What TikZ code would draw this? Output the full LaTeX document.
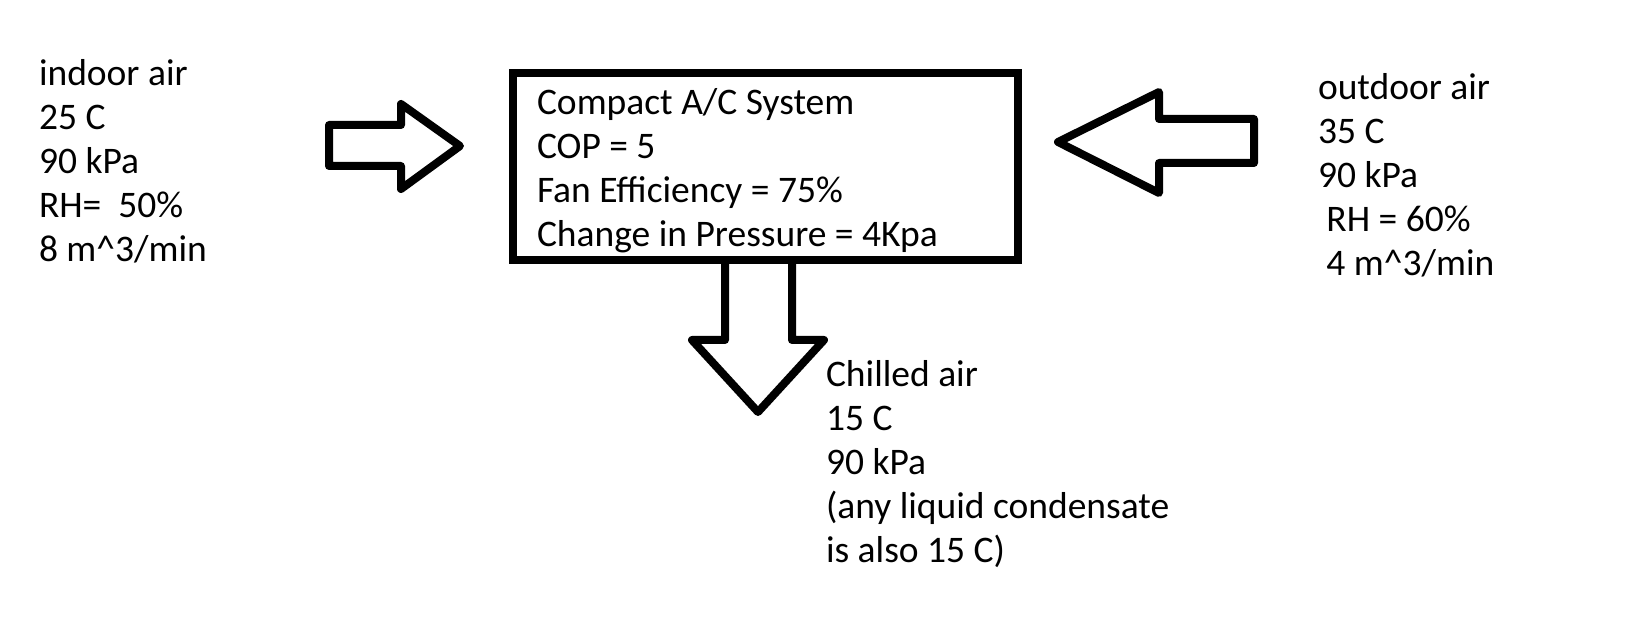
\documentclass[tikz,border=0pt]{standalone}
\usepackage{fontspec}
\setmainfont{Carlito}

\begin{document}
\begin{tikzpicture}[x=1pt, y=-1pt, line width=8pt, line join=round,
  txt/.style={anchor=base west, align=left, inner sep=0pt, font=\fontsize{37.5}{44}\selectfont}]

\useasboundingbox (0,0) rectangle (1641,617);

\node[txt] (in) at (35,262) {indoor air\\25 C\\90 kPa\\RH=~ 50\%\\8 m\textasciicircum 3/min};
\node[txt] (out) at (1314,276) {outdoor air\\35 C\\90 kPa\\\ RH = 60\%\\\ 4 m\textasciicircum 3/min};
\node[draw, line join=miter, minimum width=505pt, minimum height=187pt] (sys) at (765.5,166.5) {};
\node[txt] (systxt) at (533,247) {Compact A/C System\\COP = 5\\Fan Efficiency = 75\%\\Change in Pressure = 4Kpa};
\node[txt] (chill) at (822,562) {Chilled air\\15 C\\90 kPa\\(any liquid condensate\\is also 15 C)};

% block arrows
\draw (329,125) -- (401,125) -- (401,104) -- (460,146) -- (401,189) -- (401,166) -- (329,166) -- cycle;
\draw (1254,119) -- (1159,119) -- (1159,92) -- (1058,142) -- (1159,193) -- (1159,163) -- (1254,163) -- cycle;
\draw (725,260) -- (725,340) -- (692,340) -- (758,412) -- (824,340) -- (792,340) -- (792,260);

\end{tikzpicture}
\end{document}
